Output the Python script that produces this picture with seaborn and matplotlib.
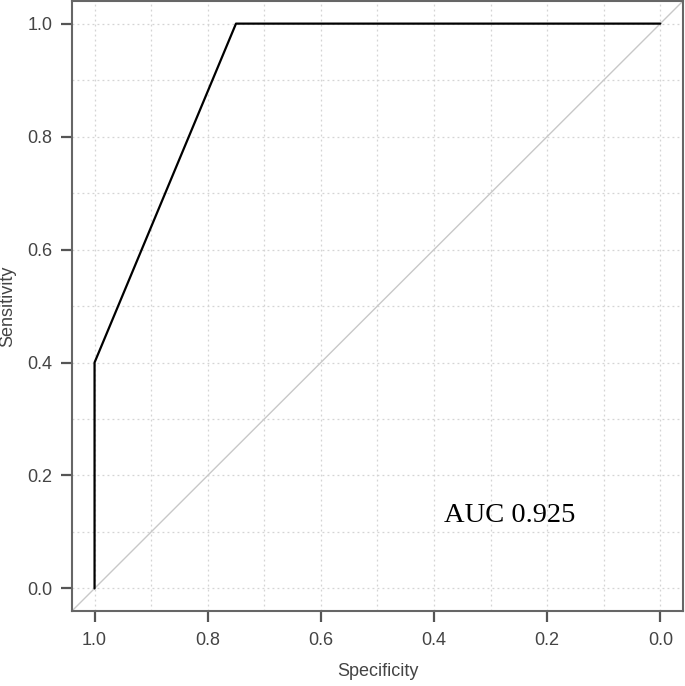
"""
Curva ROC (estilo pROC) con seaborn.
"""

import matplotlib
from matplotlib import pyplot as plt
import seaborn as sns
import pandas as pd
import numpy as np

matplotlib.use('Agg')

# Datos de la curva ROC
specificity = [1.0, 1.0, 0.75, 0.0]
sensitivity = [0.0, 0.4, 1.0, 1.0]
auc_value = 0.925
ticks = [1.0, 0.8, 0.6, 0.4, 0.2, 0.0]

sns.set_style("ticks")
plt.rcParams['font.family'] = ['Liberation Sans', 'DejaVu Sans']

df = pd.DataFrame({'spec': specificity, 'sens': sensitivity})

fig = plt.figure(figsize=(6.85, 6.86), dpi=100)
ax = fig.add_axes([0.105, 0.1093, 0.892, 0.8892])

# Rejilla punteada cada 0.1
for g in np.arange(0, 1.01, 0.1):
    ax.axvline(g, color='#d4d4d4', linestyle=(0, (1.5, 2.5)), linewidth=0.9, zorder=0)
    ax.axhline(g, color='#d4d4d4', linestyle=(0, (1.5, 2.5)), linewidth=0.9, zorder=0)

# Diagonal de referencia
ax.axline((1.0, 0.0), (0.0, 1.0), color='#c8c8c8', linewidth=1.0, zorder=1)

# Curva ROC
sns.lineplot(x='spec', y='sens', data=df, sort=False, estimator=None,
             color='black', linewidth=1.6, ax=ax, zorder=3)

ax.text(0.267, 0.13, f'AUC {auc_value:.3f}',
        family=['Liberation Serif', 'DejaVu Serif'], fontsize=20.5,
        ha='center', va='center', color='black')

ax.set_xlim(1.04, -0.04)
ax.set_ylim(-0.04, 1.04)
ax.set_xticks(ticks)
ax.set_yticks(ticks)
ax.set_xticklabels([f'{t:.1f}' for t in ticks])
ax.set_yticklabels([f'{t:.1f}' for t in ticks])
ax.tick_params(axis='both', which='major', direction='out', length=8, width=1.6,
               color='#555555', labelcolor='#444444', labelsize=13,
               left=True, bottom=True, top=False, right=False)
ax.tick_params(axis='x', pad=7)
ax.tick_params(axis='y', pad=6)

for s in ax.spines.values():
    s.set_color('#666666')
    s.set_linewidth(1.5)

ax.set_xlabel('Specificity', fontsize=13, color='#444444', labelpad=10)
ax.set_ylabel('Sensitivity', fontsize=13, color='#444444', labelpad=8)

fig.savefig('out.png', dpi=100)
plt.close(fig)
